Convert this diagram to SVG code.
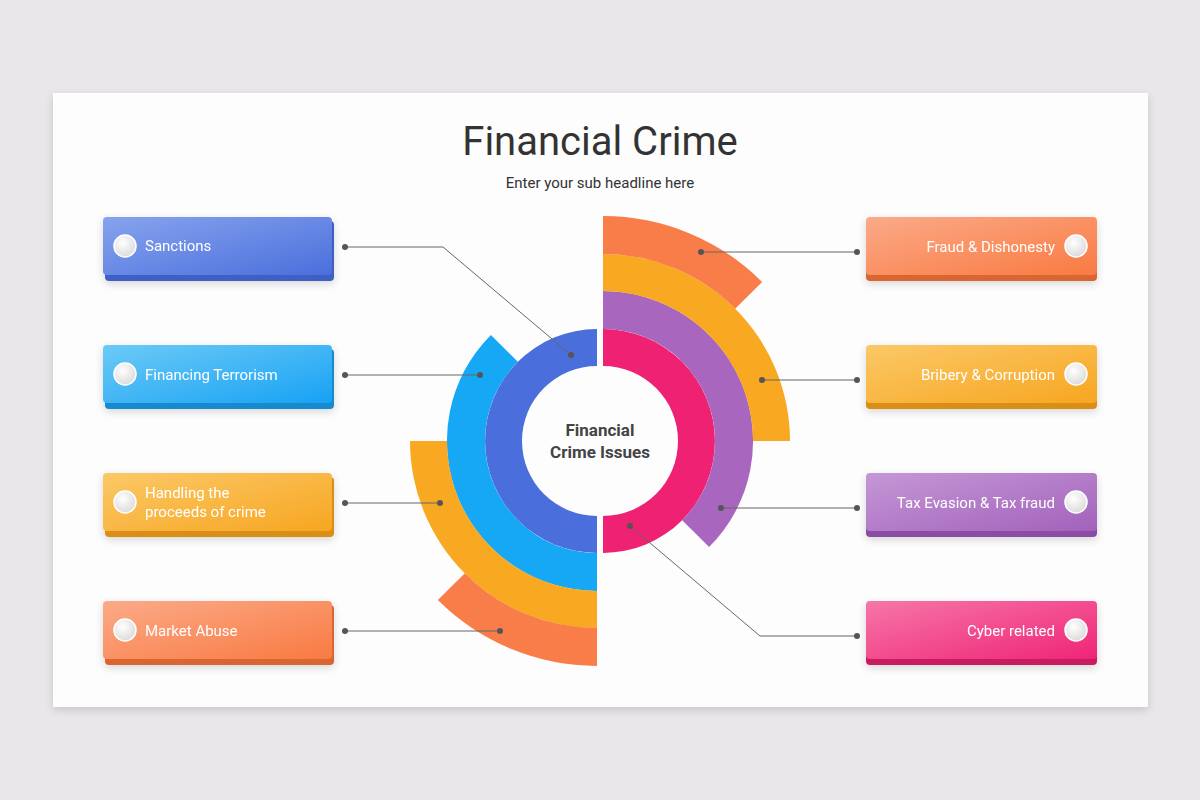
<svg xmlns="http://www.w3.org/2000/svg" width="1200" height="800" viewBox="0 0 1200 800">
<defs>
<filter id="sh" x="-10%" y="-10%" width="120%" height="130%"><feDropShadow dx="0" dy="3" stdDeviation="4" flood-color="#000" flood-opacity="0.15"/></filter>
<linearGradient id="gB" x1="0" y1="0" x2="1" y2="1"><stop offset="0" stop-color="#87a3ee"/><stop offset="1" stop-color="#4a6fdc"/></linearGradient>
<linearGradient id="gL" x1="0" y1="0" x2="1" y2="1"><stop offset="0" stop-color="#6ccaf6"/><stop offset="1" stop-color="#18a2f4"/></linearGradient>
<linearGradient id="gY" x1="0" y1="0" x2="1" y2="1"><stop offset="0" stop-color="#fbc867"/><stop offset="1" stop-color="#f7a621"/></linearGradient>
<linearGradient id="gO" x1="0" y1="0" x2="1" y2="1"><stop offset="0" stop-color="#fbaa88"/><stop offset="1" stop-color="#f97a42"/></linearGradient>
<linearGradient id="gP" x1="0" y1="0" x2="1" y2="1"><stop offset="0" stop-color="#c597d6"/><stop offset="1" stop-color="#a262bb"/></linearGradient>
<linearGradient id="gK" x1="0" y1="0" x2="1" y2="1"><stop offset="0" stop-color="#f676a8"/><stop offset="1" stop-color="#ef2577"/></linearGradient>
<radialGradient id="gc" cx="0.4" cy="0.35" r="0.7"><stop offset="0" stop-color="#ffffff"/><stop offset="1" stop-color="#d9d9d9"/></radialGradient>
</defs>
<style>
.t{font-family:Roboto,"Liberation Sans",sans-serif;fill:#fff;font-size:15px}
.ln{fill:none;stroke:#666;stroke-width:1}
.dot{fill:#555}
.ci{fill:url(#gc);stroke:#fff;stroke-width:1.5}
</style>
<rect width="1200" height="800" fill="#e9e7e9"/>
<rect x="53" y="93" width="1095" height="614" fill="#fdfdfd" filter="url(#sh)"/>
<text x="600" y="155" text-anchor="middle" font-family="Roboto,'Liberation Sans',sans-serif" font-size="40" fill="#333">Financial Crime</text>
<text x="600" y="188" text-anchor="middle" font-family="Roboto,'Liberation Sans',sans-serif" font-size="15" fill="#333">Enter your sub headline here</text>

<g id="chart">
<path d="M603,329 A112,112 0 0 1 603,553 L603,516 A75,75 0 0 0 603,366 Z" fill="#ee2172"/>
<path d="M603,291 A150,150 0 0 1 709.1,547.1 L682.2,520.2 A112,112 0 0 0 603,329 Z" fill="#a866bf"/>
<path d="M603,254 A187,187 0 0 1 790,441 L753,441 A150,150 0 0 0 603,291 Z" fill="#f8a921"/>
<path d="M603,216 A225,225 0 0 1 762.1,281.9 L735.2,308.8 A187,187 0 0 0 603,254 Z" fill="#f97d48"/>
<path d="M597,553 A112,112 0 0 1 597,329 L597,366 A75,75 0 0 0 597,516 Z" fill="#4a6fdc"/>
<path d="M597,591 A150,150 0 0 1 490.9,334.9 L517.8,361.8 A112,112 0 0 0 597,553 Z" fill="#16a7f5"/>
<path d="M597,628 A187,187 0 0 1 410,441 L447,441 A150,150 0 0 0 597,591 Z" fill="#f8a921"/>
<path d="M597,666 A225,225 0 0 1 437.9,600.1 L464.8,573.2 A187,187 0 0 0 597,628 Z" fill="#f97d48"/>
<text x="600" y="436" text-anchor="middle" font-family="Roboto,'Liberation Sans',sans-serif" font-weight="bold" font-size="17" fill="#444">Financial</text>
<text x="600" y="458" text-anchor="middle" font-family="Roboto,'Liberation Sans',sans-serif" font-weight="bold" font-size="17" fill="#444">Crime Issues</text>
</g>

<g id="connectors">
<polyline class="ln" points="345,247 443,247 571,355"/><circle class="dot" cx="345" cy="247" r="3"/><circle class="dot" cx="571" cy="355" r="3"/>
<polyline class="ln" points="345,375 480,375"/><circle class="dot" cx="345" cy="375" r="3"/><circle class="dot" cx="480" cy="375" r="3"/>
<polyline class="ln" points="345,503 440,503"/><circle class="dot" cx="345" cy="503" r="3"/><circle class="dot" cx="440" cy="503" r="3"/>
<polyline class="ln" points="345,631 500,631"/><circle class="dot" cx="345" cy="631" r="3"/><circle class="dot" cx="500" cy="631" r="3"/>
<polyline class="ln" points="857,252 701,252"/><circle class="dot" cx="857" cy="252" r="3"/><circle class="dot" cx="701" cy="252" r="3"/>
<polyline class="ln" points="857,380 762,380"/><circle class="dot" cx="857" cy="380" r="3"/><circle class="dot" cx="762" cy="380" r="3"/>
<polyline class="ln" points="857,508 721,508"/><circle class="dot" cx="857" cy="508" r="3"/><circle class="dot" cx="721" cy="508" r="3"/>
<polyline class="ln" points="857,636 760,636 630,526"/><circle class="dot" cx="857" cy="636" r="3"/><circle class="dot" cx="630" cy="526" r="3"/>
</g>

<g id="sanctions" filter="url(#sh)"><rect x="105" y="221" width="229" height="60" rx="4" fill="#3f5fc4"/><rect x="103" y="217" width="229" height="58" rx="4" fill="url(#gB)"/><circle class="ci" cx="125" cy="246" r="11"/><text class="t" x="145" y="251">Sanctions</text></g>
<g id="terrorism" filter="url(#sh)"><rect x="105" y="349" width="229" height="60" rx="4" fill="#1289cf"/><rect x="103" y="345" width="229" height="58" rx="4" fill="url(#gL)"/><circle class="ci" cx="125" cy="374" r="11"/><text class="t" x="145" y="380">Financing Terrorism</text></g>
<g id="handling" filter="url(#sh)"><rect x="105" y="477" width="229" height="60" rx="4" fill="#d98f14"/><rect x="103" y="473" width="229" height="58" rx="4" fill="url(#gY)"/><circle class="ci" cx="125" cy="502" r="11"/><text class="t" x="145" y="498">Handling the</text><text class="t" x="145" y="517">proceeds of crime</text></g>
<g id="market" filter="url(#sh)"><rect x="105" y="605" width="229" height="60" rx="4" fill="#d86533"/><rect x="103" y="601" width="229" height="58" rx="4" fill="url(#gO)"/><circle class="ci" cx="125" cy="630" r="11"/><text class="t" x="145" y="636">Market Abuse</text></g>

<g id="fraud" filter="url(#sh)"><rect x="866" y="221" width="231" height="60" rx="4" fill="#d86533"/><rect x="866" y="217" width="231" height="58" rx="4" fill="url(#gO)"/><circle class="ci" cx="1076" cy="246" r="11"/><text class="t" x="1055" y="252" text-anchor="end">Fraud &amp; Dishonesty</text></g>
<g id="bribery" filter="url(#sh)"><rect x="866" y="349" width="231" height="60" rx="4" fill="#d98f14"/><rect x="866" y="345" width="231" height="58" rx="4" fill="url(#gY)"/><circle class="ci" cx="1076" cy="374" r="11"/><text class="t" x="1055" y="380" text-anchor="end">Bribery &amp; Corruption</text></g>
<g id="tax" filter="url(#sh)"><rect x="866" y="477" width="231" height="60" rx="4" fill="#8a4ea3"/><rect x="866" y="473" width="231" height="58" rx="4" fill="url(#gP)"/><circle class="ci" cx="1076" cy="502" r="11"/><text class="t" x="1055" y="508" text-anchor="end">Tax Evasion &amp; Tax fraud</text></g>
<g id="cyber" filter="url(#sh)"><rect x="866" y="605" width="231" height="60" rx="4" fill="#c91b61"/><rect x="866" y="601" width="231" height="58" rx="4" fill="url(#gK)"/><circle class="ci" cx="1076" cy="630" r="11"/><text class="t" x="1055" y="636" text-anchor="end">Cyber related</text></g>
</svg>
